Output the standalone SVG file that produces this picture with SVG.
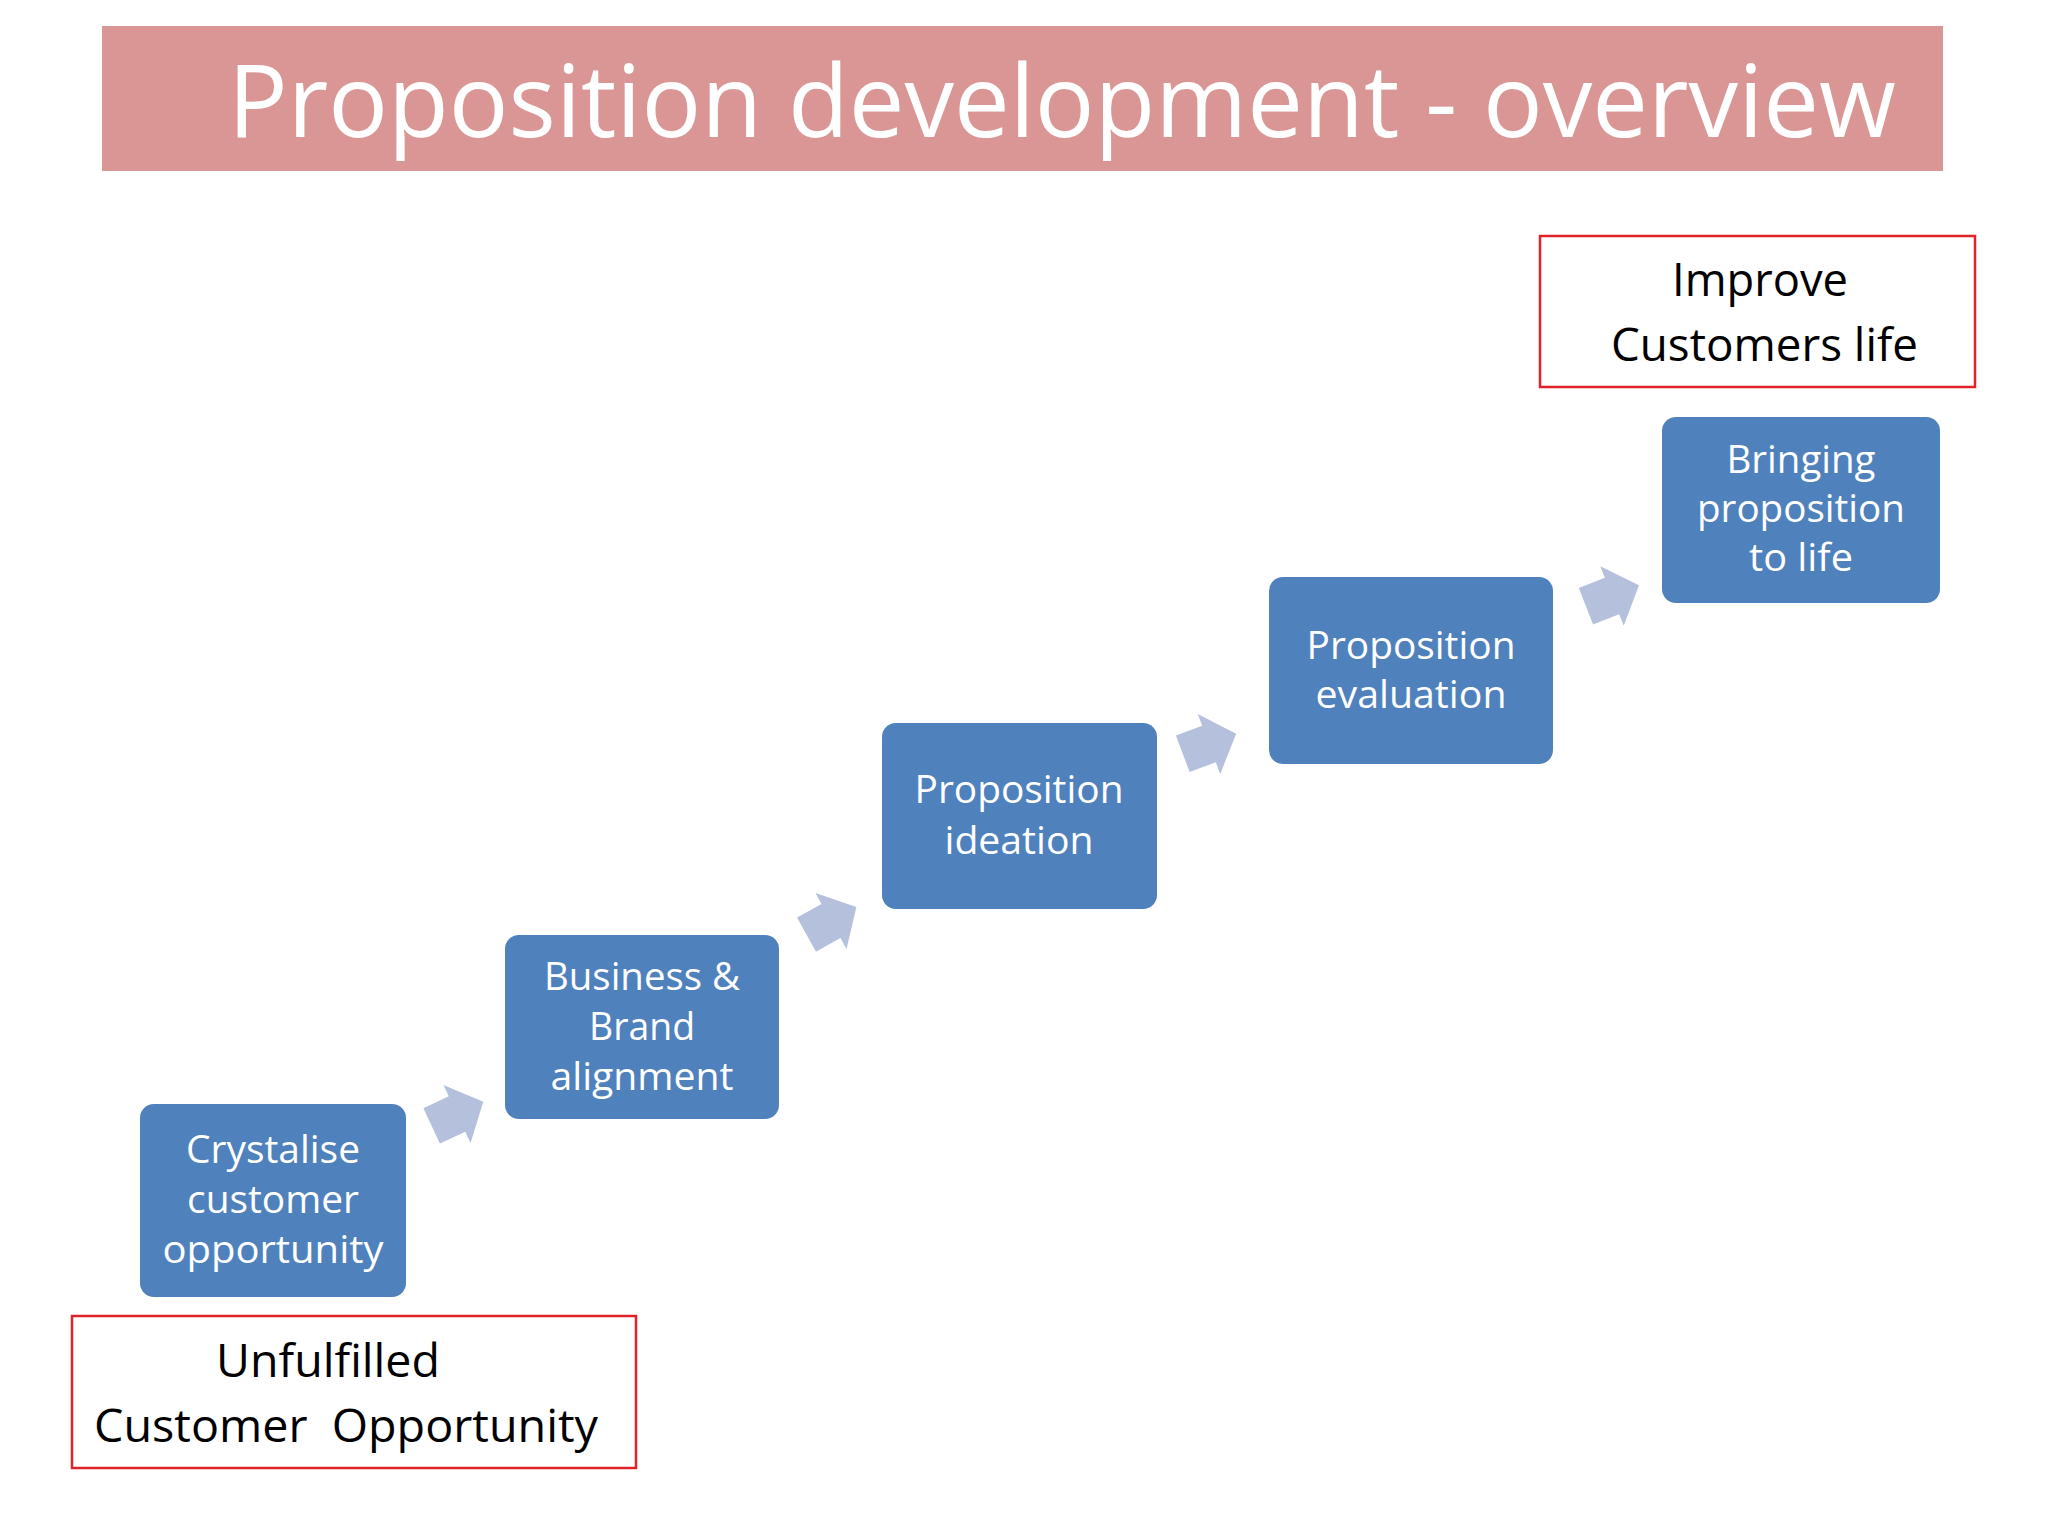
<svg xmlns="http://www.w3.org/2000/svg" width="2048" height="1536" viewBox="0 0 2048 1536">
<style>
.box{fill:#4f81bd;}
.note{fill:#ffffff;stroke:#e0232b;stroke-width:2.5;}
.arr{fill:#b4c0dc;}
.wt{font-family:"Open Sans","Noto Sans",sans-serif;font-size:38px;fill:#ffffff;text-anchor:middle;}
.bt{font-family:"Open Sans","Noto Sans",sans-serif;font-size:46px;fill:#000000;}
.title{font-family:"Open Sans","Noto Sans",sans-serif;font-size:100px;fill:#ffffff;}
</style>
<defs>
<polygon id="arrowShape" points="-28,-19.5 0,-19.5 0,-32 29,0 0,32 0,19.5 -28,19.5"/>
</defs>
<rect width="2048" height="1536" fill="#ffffff"/>
<g id="title">
<rect x="102" y="26" width="1841" height="145" fill="#d99694"/>
<text class="title" x="228" y="137" textLength="1668" lengthAdjust="spacingAndGlyphs">Proposition development - overview</text>
</g>
<g id="connectors">
<use href="#arrowShape" class="arr" transform="translate(457,1114) rotate(-25)"/>
<use href="#arrowShape" class="arr" transform="translate(831,921) rotate(-29)"/>
<use href="#arrowShape" class="arr" transform="translate(1209,744) rotate(-20.5)"/>
<use href="#arrowShape" class="arr" transform="translate(1612,596) rotate(-21.5)"/>
</g>
<g id="step1">
<rect class="box" x="140" y="1104" width="266" height="193" rx="14"/>
<text class="wt" x="273" y="1163" textLength="174" lengthAdjust="spacingAndGlyphs">Crystalise</text>
<text class="wt" x="273" y="1213" textLength="172" lengthAdjust="spacingAndGlyphs">customer</text>
<text class="wt" x="273" y="1263" textLength="221" lengthAdjust="spacingAndGlyphs">opportunity</text>
</g>
<g id="step2">
<rect class="box" x="505" y="935" width="274" height="184" rx="14"/>
<text class="wt" x="642" y="990" textLength="196" lengthAdjust="spacingAndGlyphs">Business &amp;</text>
<text class="wt" x="642" y="1040" textLength="106" lengthAdjust="spacingAndGlyphs">Brand</text>
<text class="wt" x="642" y="1090" textLength="183" lengthAdjust="spacingAndGlyphs">alignment</text>
</g>
<g id="step3">
<rect class="box" x="882" y="723" width="275" height="186" rx="14"/>
<text class="wt" x="1019" y="803" textLength="209" lengthAdjust="spacingAndGlyphs">Proposition</text>
<text class="wt" x="1019" y="854" textLength="149" lengthAdjust="spacingAndGlyphs">ideation</text>
</g>
<g id="step4">
<rect class="box" x="1269" y="577" width="284" height="187" rx="14"/>
<text class="wt" x="1411" y="659" textLength="209" lengthAdjust="spacingAndGlyphs">Proposition</text>
<text class="wt" x="1411" y="708" textLength="191" lengthAdjust="spacingAndGlyphs">evaluation</text>
</g>
<g id="step5">
<rect class="box" x="1662" y="417" width="278" height="186" rx="14"/>
<text class="wt" x="1801" y="473" textLength="149" lengthAdjust="spacingAndGlyphs">Bringing</text>
<text class="wt" x="1801" y="522" textLength="208" lengthAdjust="spacingAndGlyphs">proposition</text>
<text class="wt" x="1801" y="571" textLength="104" lengthAdjust="spacingAndGlyphs">to life</text>
</g>
<g id="goal">
<rect class="note" x="1540" y="236" width="435" height="151"/>
<text class="bt" x="1672" y="296" textLength="176" lengthAdjust="spacingAndGlyphs">Improve</text>
<text class="bt" x="1611" y="361" textLength="307" lengthAdjust="spacingAndGlyphs">Customers life</text>
</g>
<g id="start">
<rect class="note" x="72" y="1316" width="564" height="152"/>
<text class="bt" x="216" y="1377" textLength="224" lengthAdjust="spacingAndGlyphs">Unfulfilled</text>
<text class="bt" x="94" y="1442" textLength="504" lengthAdjust="spacingAndGlyphs" xml:space="preserve">Customer  Opportunity</text>
</g>
</svg>
